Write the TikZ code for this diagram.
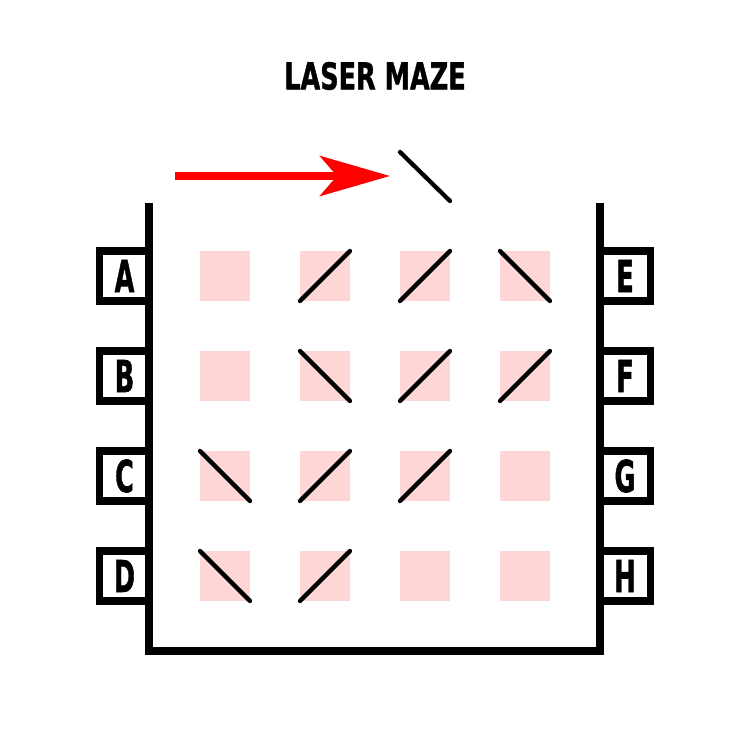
\documentclass[tikz,border=0pt]{standalone}
\usepackage{fontspec}
\usepackage{graphicx}
\setmainfont{DejaVu Sans}
\newfontfamily\heavy{DejaVu Sans}[UprightFont={* Bold},FakeBold=1.5]
\usetikzlibrary{arrows.meta}
\definecolor{tilepink}{RGB}{255,214,214}
\definecolor{laserred}{RGB}{255,0,0}
\tikzset{
  wall/.style={line width=7.5pt, line join=miter},
  tile/.style={fill=tilepink, draw=none, minimum size=50pt, inner sep=0pt, outer sep=0pt},
  mirror/.style={line width=4.3pt, line cap=round},
  portbox/.style={line width=7.5pt},
  portlabel/.style={font=\heavy\fontsize{44}{44}\selectfont, inner sep=0pt},
  laser/.style={draw=laserred, line width=8pt, -{Stealth[length=70pt,width=40pt,inset=17pt,fill=laserred]}},
}
\newcommand{\narrowtxt}[2]{\scalebox{#1}[1]{#2}}
\begin{document}
\begin{tikzpicture}[x=1pt,y=-1pt]
\useasboundingbox (0,0) rectangle (752,752);
% title
\node[font=\heavy\fontsize{37}{37}\selectfont, inner sep=0pt] (title) at (375,76) {\narrowtxt{0.69}{LASER MAZE}};
% tiles
\foreach \r in {1,...,4}{
  \foreach \c in {1,...,4}{
    \node[tile] (t\r\c) at ({125+100*\c},{176+100*\r}) {};
  }
}
% mirrors
\foreach \n in {t12,t13,t23,t24,t32,t33,t42}{
  \draw[mirror] (\n.south west) -- (\n.north east);
}
\foreach \n in {t14,t22,t31,t41}{
  \draw[mirror] (\n.north west) -- (\n.south east);
}
% container
\coordinate (wl) at (149,203);
\coordinate (wr) at (600,203);
\draw[wall] (wl) -- (149,651) -- (600,651) -- (wr);
% port boxes
\foreach \l/\r in {A/1,B/2,C/3,D/4}{
  \draw[portbox] (149,{251+100*(\r-1)}) -- (99.5,{251+100*(\r-1)}) -- (99.5,{301+100*(\r-1)}) -- (149,{301+100*(\r-1)});
  \node[portlabel] (p\l) at (124.5,{276+100*(\r-1)}) {\narrowtxt{0.58}{\l}};
}
\foreach \l/\r in {E/1,F/2,G/3,H/4}{
  \draw[portbox] (600,{251+100*(\r-1)}) -- (650.5,{251+100*(\r-1)}) -- (650.5,{301+100*(\r-1)}) -- (600,{301+100*(\r-1)});
  \node[portlabel] (p\l) at (625,{276+100*(\r-1)}) {\narrowtxt{0.58}{\l}};
}
% laser and entry mirror
\coordinate (src) at (175,176);
\coordinate (tip) at (390,176);
\draw[laser] (src) -- (tip);
\coordinate (m1) at (400,152);
\coordinate (m2) at (450,201);
\draw[mirror] (m1) -- (m2);
\end{tikzpicture}
\end{document}
